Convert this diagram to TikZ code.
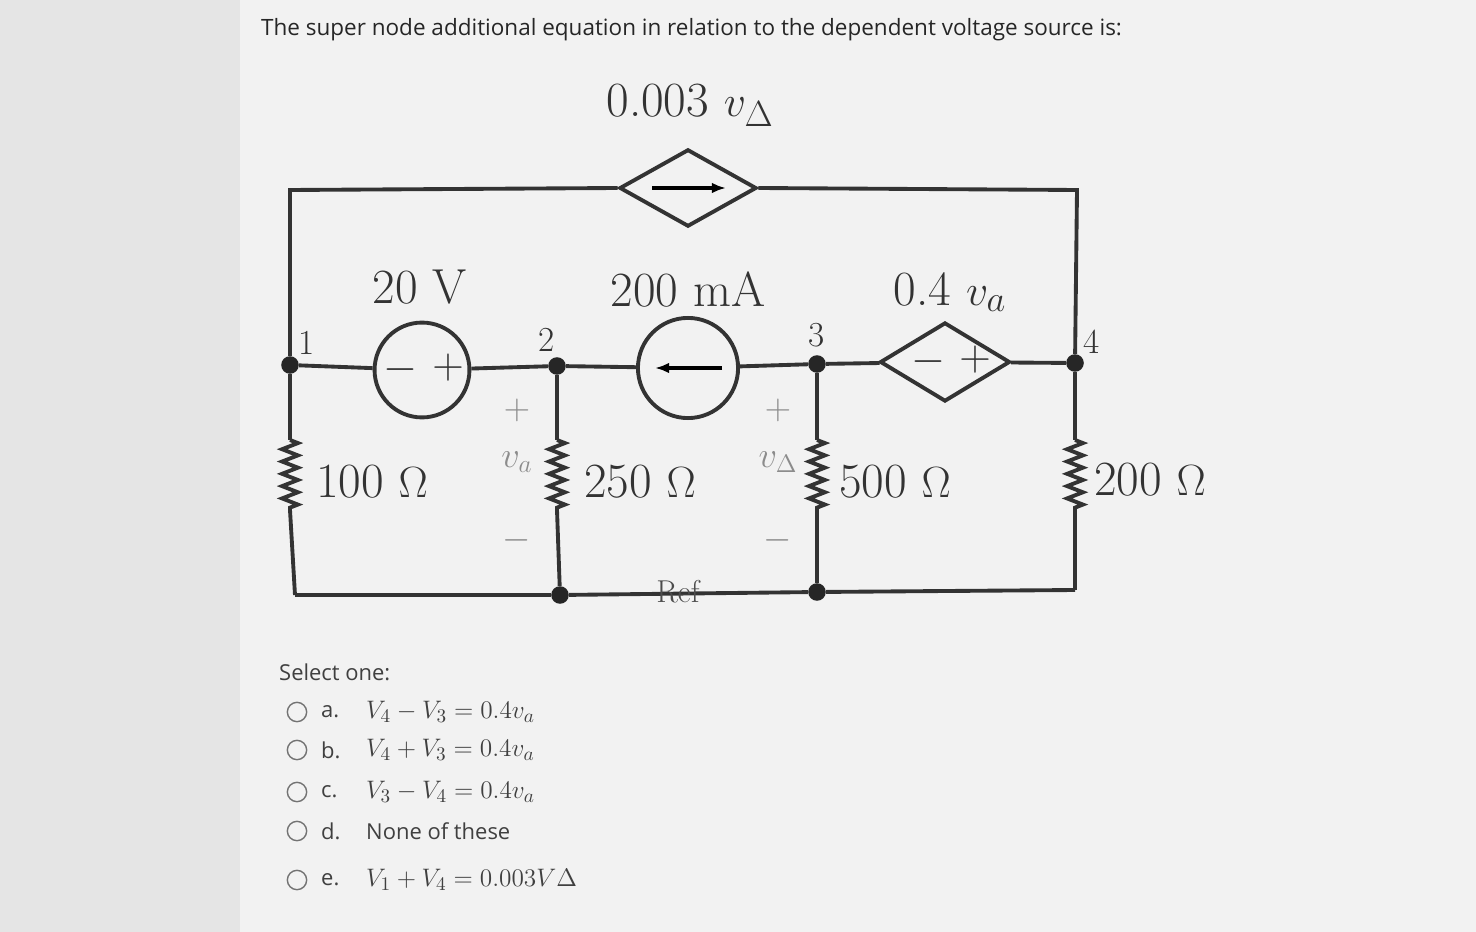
\documentclass[tikz,border=0pt]{standalone}
\usepackage{fontspec}
\setsansfont{Open Sans}
\usetikzlibrary{shapes.geometric,decorations.pathmorphing,arrows.meta}
\begin{document}
\begin{tikzpicture}[x=0.02cm,y=-0.02cm,
  wire/.style={line width=2.2pt,draw=black!80},
  dot/.style={circle,fill=black!85,inner sep=0pt,minimum size=10pt},
  res/.style={wire,decorate,decoration={zigzag,segment length=7pt,amplitude=4.5pt,pre length=0pt,post length=0pt}},
  big/.style={font=\fontsize{28}{30}\selectfont,text=black!80},
  pol/.style={font=\fontsize{22}{24}\selectfont,text=black!45},
  nlab/.style={font=\fontsize{20}{22}\selectfont,text=black!80},
  opt/.style={font=\sffamily\fontsize{12.5}{14}\selectfont,text=black!75,anchor=west},
  eq/.style={font=\fontsize{15}{17}\selectfont,text=black!75,anchor=west},
  radio/.style={circle,draw=black!55,line width=0.8pt,minimum size=11pt,inner sep=0pt}]
\useasboundingbox (0,0) rectangle (1476,932);
\fill[black!10] (0,0) rectangle (1476,932);
\fill[black!5] (240,0) rectangle (1476,932);
\node[font=\sffamily\fontsize{12.8}{15}\selectfont,text=black!85,anchor=west] (title) at (255,30) {The super node additional equation in relation to the dependent voltage source is:};
% nodes
\node[dot] (n1) at (290,365) {};
\node[dot] (n2) at (557,366) {};
\node[dot] (n3) at (817,364) {};
\node[dot] (n4) at (1075,363) {};
\node[dot] (b2) at (560,595) {};
\node[dot] (b3) at (817,592) {};
\coordinate (bl) at (295,595);
\coordinate (br) at (1075,590);
\coordinate (tl) at (290,190);
\coordinate (tr) at (1077,190);
\node[nlab] (l1) at (307,343) {1};
\node[nlab] (l2) at (547,340) {2};
\node[nlab] (l3) at (817,335) {3};
\node[nlab] (l4) at (1092,342) {4};
% top dependent current source
\node[diamond,draw=black!80,line width=2.2pt,minimum width=78pt,minimum height=44pt,aspect=1.8,inner sep=0pt] (dcs) at (688,188) {};
\draw[-{Latex[length=8pt]},line width=2pt] (652,188) -- (726,188);
\node[big] (dcsl) at (690,105) {0.003 $v_\Delta$};
\draw[wire] (n1) -- (tl) -- (dcs.west);
\draw[wire] (dcs.east) -- (tr) -- (n4);
% 20V source
\node[circle,draw=black!80,line width=2.2pt,minimum size=54pt] (vs) at (422,370) {};
\node[big] at (400,370) {$-$};
\node[big] at (448,368) {$+$};
\node[big] (vsl) at (420,287) {20 V};
\draw[wire] (n1) -- (vs) -- (n2);
% 200 mA source
\node[circle,draw=black!80,line width=2.2pt,minimum size=57pt] (cs) at (688,368) {};
\draw[-{Latex[length=8pt]},line width=2pt] (722,368) -- (655,368);
\node[big] (csl) at (688,290) {200 mA};
\draw[wire] (n2) -- (cs) -- (n3);
% dependent voltage source
\node[diamond,draw=black!80,line width=2.2pt,minimum width=74pt,minimum height=45pt,aspect=1.6,inner sep=0pt] (dvs) at (945,362) {};
\node[big] at (928,362) {$-$};
\node[big] at (975,360) {$+$};
\node[big] (dvsl) at (950,292) {0.4 $v_a$};
\draw[wire] (n3) -- (dvs) -- (n4);
% resistors
\coordinate (r1a) at (290,440); \coordinate (r1b) at (290,510);
\coordinate (r2a) at (557,440); \coordinate (r2b) at (557,510);
\coordinate (r3a) at (817,440); \coordinate (r3b) at (817,510);
\coordinate (r4a) at (1075,440); \coordinate (r4b) at (1075,510);
\draw[wire] (n1) -- (r1a); \draw[res] (r1a) -- (r1b); \draw[wire] (r1b) -- (bl);
\draw[wire] (n2) -- (r2a); \draw[res] (r2a) -- (r2b); \draw[wire] (r2b) -- (b2);
\draw[wire] (n3) -- (r3a); \draw[res] (r3a) -- (r3b); \draw[wire] (r3b) -- (b3);
\draw[wire] (n4) -- (r4a); \draw[res] (r4a) -- (r4b); \draw[wire] (r4b) -- (br);
\draw[wire] (bl) -- (b2) -- (b3) -- (br);
\node[big] at (372,482) {100 $\Omega$};
\node[big] at (640,482) {250 $\Omega$};
\node[big] at (895,482) {500 $\Omega$};
\node[big] at (1150,480) {200 $\Omega$};
\node[font=\fontsize{18}{20}\selectfont,text=black!70] (ref) at (678,592) {Ref};
% polarity marks
\node[pol] at (517,410) {$+$};
\node[pol] at (517,462) {$v_a$};
\node[pol] at (517,540) {$-$};
\node[pol] at (778,410) {$+$};
\node[pol] at (778,462) {$v_\Delta$};
\node[pol] at (778,540) {$-$};
% question
\node[opt] at (273,672) {Select one:};
\foreach \y/\l/\e in {712/a./{$V_4-V_3=0.4v_a$},750/b./{$V_4+V_3=0.4v_a$},792/c./{$V_3-V_4=0.4v_a$},880/e./{$V_1+V_4=0.003V\Delta$}}{
  \node[radio] at (297,\y) {};
  \node[opt] at (315,\y) {\l};
  \node[eq] at (360,\y) {\e};
}
\node[radio] at (297,831) {};
\node[opt] at (315,831) {d.};
\node[opt] at (360,831) {None of these};
\end{tikzpicture}
\end{document}
